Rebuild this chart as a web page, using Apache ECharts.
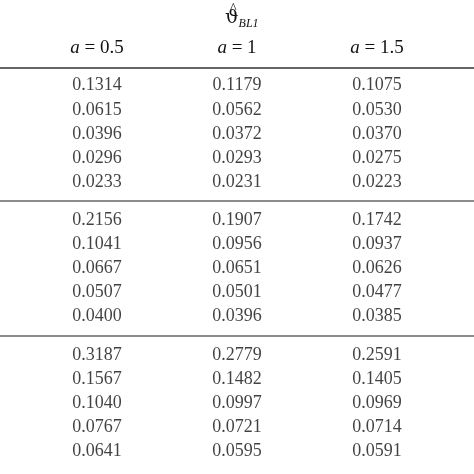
<!DOCTYPE html>
<html><head><meta charset="utf-8">
<script src="https://cdn.jsdelivr.net/npm/echarts@6/dist/echarts.min.js"></script>
<style>html,body{margin:0;padding:0;background:#fff}#c{width:474px;height:474px}</style>
</head><body><div id="c"></div>
<script>
// column headers and table values (3 blocks x 5 rows x 3 columns)
const columns = ['a = 0.5', 'a = 1', 'a = 1.5'];
const block1 = [
  ['0.1314', '0.1179', '0.1075'],
  ['0.0615', '0.0562', '0.0530'],
  ['0.0396', '0.0372', '0.0370'],
  ['0.0296', '0.0293', '0.0275'],
  ['0.0233', '0.0231', '0.0223']
];
const block2 = [
  ['0.2156', '0.1907', '0.1742'],
  ['0.1041', '0.0956', '0.0937'],
  ['0.0667', '0.0651', '0.0626'],
  ['0.0507', '0.0501', '0.0477'],
  ['0.0400', '0.0396', '0.0385']
];
const block3 = [
  ['0.3187', '0.2779', '0.2591'],
  ['0.1567', '0.1482', '0.1405'],
  ['0.1040', '0.0997', '0.0969'],
  ['0.0767', '0.0721', '0.0714'],
  ['0.0641', '0.0595', '0.0591']
];

const blocks = [block1, block2, block3];
const blockGap = 5.6;
const cells = [];
blocks.forEach((b, bi) => {
  b.forEach((row, ri) => {
    row.forEach((v, ci) => {
      cells.push({ value: [ci + 0.5, bi * blockGap + ri], label: v });
    });
  });
});

const font = '"Liberation Serif", "DejaVu Serif", serif';
const ink = '#111';
const chart = echarts.init(document.getElementById('c'));
chart.setOption({
  animation: false,
  grid: { left: 0, right: 0, top: 67, bottom: 23 },
  xAxis: { type: 'value', min: -0.193, max: 3.193, show: false },
  yAxis: { type: 'value', inverse: true, min: -0.78, max: 15.2, show: false },
  graphic: [
    { type: 'text', x: 230, y: 2, style: { text: '^', fontFamily: font, fontSize: 14, fill: ink } },
    {
      type: 'text', x: 225, y: 6,
      style: {
        text: '{t|ϑ}{s|BL1}',
        rich: {
          t: { fontFamily: '"DejaVu Serif", serif', fontSize: 19, fill: ink },
          s: { fontFamily: font, fontSize: 12, fontStyle: 'italic', fill: ink, padding: [12, 0, 0, 0] }
        }
      }
    }
  ].concat(columns.map((c, i) => ({
    type: 'text', x: [97, 237, 377][i], y: 48,
    style: {
      text: '{i|a} = ' + c.slice(4),
      rich: { i: { fontFamily: font, fontSize: 19, fontStyle: 'italic', fill: ink } },
      fontFamily: font, fontSize: 19, fill: ink, align: 'center', verticalAlign: 'middle'
    }
  }))),
  series: [{
    type: 'scatter',
    symbolSize: 0,
    data: cells,
    label: {
      show: true, position: 'inside',
      formatter: p => p.data.label,
      fontFamily: font, fontSize: 18, color: ink
    },
    markLine: {
      silent: true, symbol: 'none', label: { show: false },
      lineStyle: { color: '#666', type: 'solid', width: 2 },
      data: [{ yAxis: -0.74 }, { yAxis: 4.8, lineStyle: { width: 1.5 } }, { yAxis: 10.4, lineStyle: { width: 1.5 } }]
    }
  }]
});
</script></body></html>
